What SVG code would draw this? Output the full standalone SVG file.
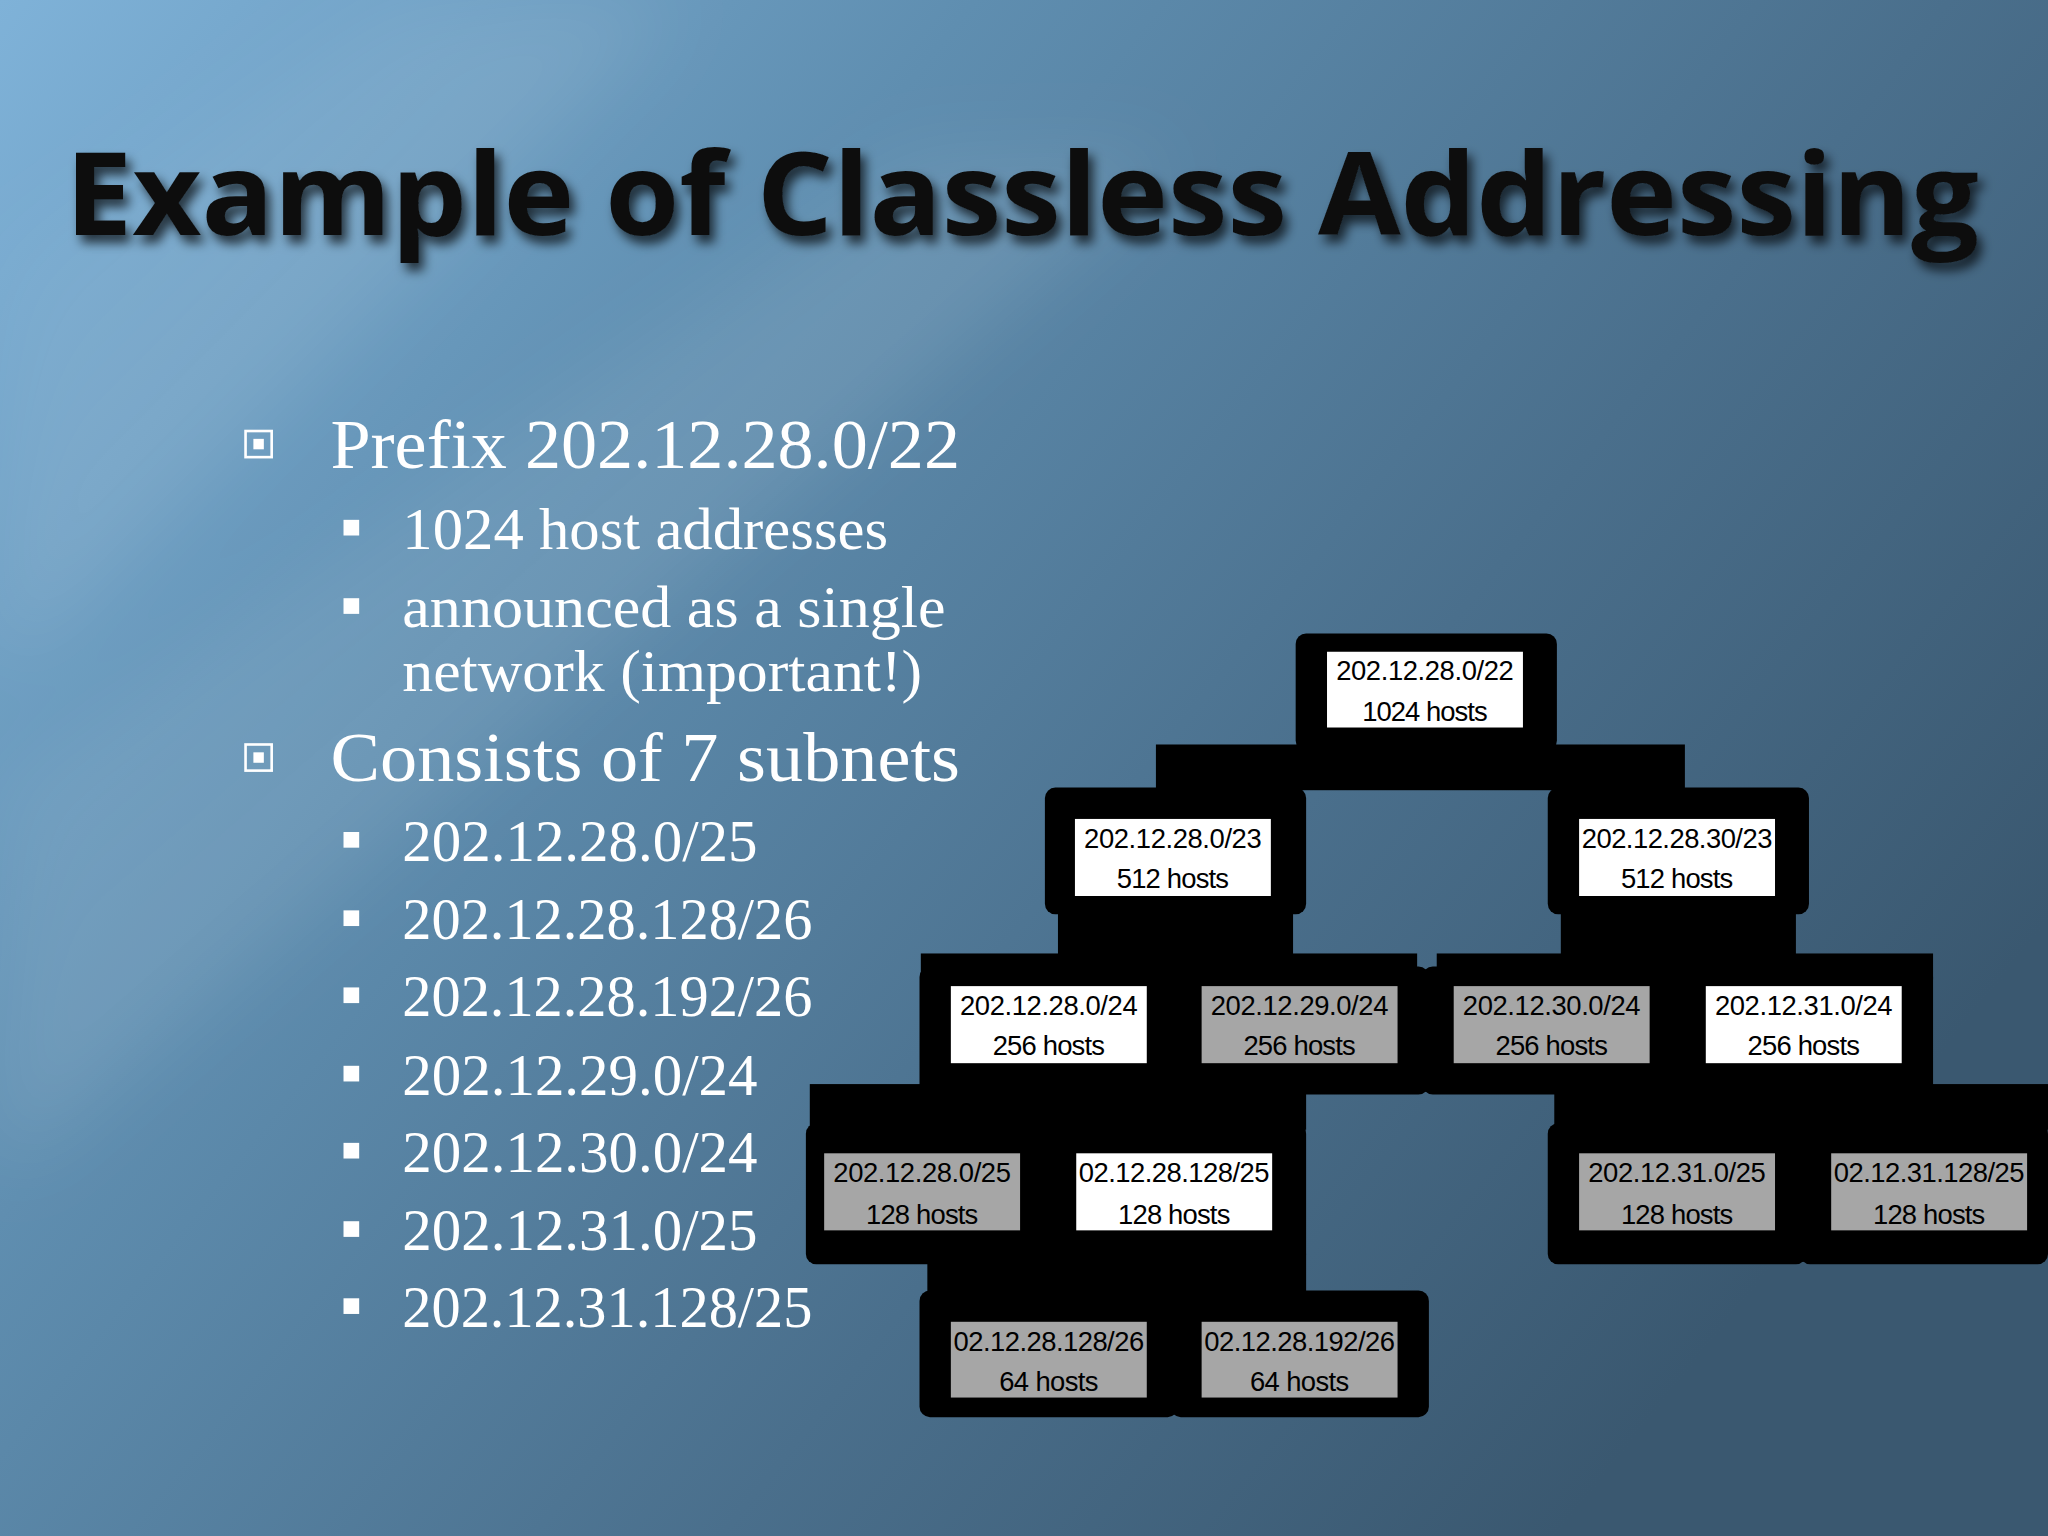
<svg xmlns="http://www.w3.org/2000/svg" width="2048" height="1536" viewBox="0 0 2048 1536">
<defs>
<linearGradient id="bg" x1="0" y1="0" x2="1" y2="0.6">
<stop offset="0" stop-color="#7fb2d8"/>
<stop offset="0.35" stop-color="#5f8eb0"/>
<stop offset="0.7" stop-color="#4a6f8c"/>
<stop offset="1" stop-color="#3a5870"/>
</linearGradient>
<linearGradient id="streak" x1="0" y1="0" x2="1" y2="1">
<stop offset="0" stop-color="#ffffff" stop-opacity="0"/>
<stop offset="0.5" stop-color="#ffffff" stop-opacity="0.1"/>
<stop offset="1" stop-color="#ffffff" stop-opacity="0"/>
</linearGradient>
<filter id="sh" x="-5%" y="-20%" width="110%" height="150%"><feDropShadow dx="4" dy="6" stdDeviation="4" flood-color="#000" flood-opacity="0.7"/></filter>
<filter id="bl"><feGaussianBlur stdDeviation="30"/></filter>
</defs>
<style>
.t{font-family:"Liberation Serif","DejaVu Serif",serif;fill:#fff}
.b1{font-size:53px}
.b2{font-size:45px}
.n{font-family:"Liberation Sans","DejaVu Sans",sans-serif;font-size:21px;fill:#000;text-anchor:middle}
.lw{fill:#fff}
.lg{fill:#a6a6a6}
.blk{fill:#000}
</style>
<rect width="2048" height="1536" fill="url(#bg)"/>
<g transform="scale(1.30612)">
<g filter="url(#bl)">
<polygon points="0,200 300,0 520,0 0,520" fill="url(#streak)"/>
<polygon points="0,600 700,120 900,120 0,900" fill="url(#streak)"/>
</g>
<text x="50" y="180" font-family="'Open Sans','DejaVu Sans',sans-serif" font-weight="bold" font-size="88" fill="#111" filter="url(#sh)" textLength="1465" lengthAdjust="spacingAndGlyphs">Example of Classless Addressing</text>

<g id="bullets">
<rect x="188" y="330" width="20" height="20" fill="none" stroke="#fff" stroke-width="2"/><rect x="194" y="336" width="8" height="8" fill="#fff"/>
<rect x="188" y="570" width="20" height="20" fill="none" stroke="#fff" stroke-width="2"/><rect x="194" y="576" width="8" height="8" fill="#fff"/>
<text class="t b1" x="253" y="358" textLength="482" lengthAdjust="spacingAndGlyphs">Prefix 202.12.28.0/22</text>
<text class="t b1" x="253" y="598" textLength="482" lengthAdjust="spacingAndGlyphs">Consists of 7 subnets</text>
<g fill="#fff"><rect x="263" y="398" width="12" height="12"/><rect x="263" y="458" width="12" height="12"/><rect x="263" y="637" width="12" height="12"/><rect x="263" y="697" width="12" height="12"/><rect x="263" y="756" width="12" height="12"/><rect x="263" y="816" width="12" height="12"/><rect x="263" y="875" width="12" height="12"/><rect x="263" y="935" width="12" height="12"/><rect x="263" y="994" width="12" height="12"/></g>
<text class="t b2" x="308" y="420" textLength="372" lengthAdjust="spacingAndGlyphs">1024 host addresses</text>
<text class="t b2" x="308" y="480" textLength="416" lengthAdjust="spacingAndGlyphs">announced as a single</text>
<text class="t b2" x="308" y="529" textLength="398" lengthAdjust="spacingAndGlyphs">network (important!)</text>
<text class="t b2" x="308" y="659" textLength="272" lengthAdjust="spacingAndGlyphs">202.12.28.0/25</text>
<text class="t b2" x="308" y="719" textLength="314" lengthAdjust="spacingAndGlyphs">202.12.28.128/26</text>
<text class="t b2" x="308" y="778" textLength="314" lengthAdjust="spacingAndGlyphs">202.12.28.192/26</text>
<text class="t b2" x="308" y="838" textLength="272" lengthAdjust="spacingAndGlyphs">202.12.29.0/24</text>
<text class="t b2" x="308" y="897" textLength="272" lengthAdjust="spacingAndGlyphs">202.12.30.0/24</text>
<text class="t b2" x="308" y="957" textLength="272" lengthAdjust="spacingAndGlyphs">202.12.31.0/25</text>
<text class="t b2" x="308" y="1016" textLength="314" lengthAdjust="spacingAndGlyphs">202.12.31.128/25</text>
</g>

<g id="connectors" class="blk">
<rect x="885" y="570" width="405" height="35"/>
<rect x="810" y="695" width="180" height="50"/>
<rect x="1195" y="695" width="180" height="50"/>
<rect x="705" y="730" width="380" height="20"/>
<rect x="1100" y="730" width="380" height="20"/>
<rect x="620" y="830" width="380" height="35"/>
<rect x="1190" y="830" width="378" height="35"/>
<rect x="710" y="960" width="290" height="32"/>
</g>

<g id="n1"><rect class="blk" x="992" y="485" width="200" height="90" rx="8"/><rect class="lw" x="1016" y="499" width="150" height="58"/><text class="n" x="1091" y="521" textLength="136">202.12.28.0/22</text><text class="n" x="1091" y="552" textLength="96">1024 hosts</text></g>
<g id="n2"><rect class="blk" x="800" y="603" width="200" height="97" rx="8"/><rect class="lw" x="823" y="627" width="150" height="59"/><text class="n" x="898" y="649" textLength="136">202.12.28.0/23</text><text class="n" x="898" y="680" textLength="86">512 hosts</text></g>
<g id="n3"><rect class="blk" x="1185" y="603" width="200" height="97" rx="8"/><rect class="lw" x="1209" y="627" width="150" height="59"/><text class="n" x="1284" y="649" textLength="146">202.12.28.30/23</text><text class="n" x="1284" y="680" textLength="86">512 hosts</text></g>

<g id="n4"><rect class="blk" x="704" y="740" width="198" height="98" rx="8"/><rect class="lw" x="728" y="755" width="150" height="59"/><text class="n" x="803" y="777" textLength="136">202.12.28.0/24</text><text class="n" x="803" y="808" textLength="86">256 hosts</text></g>
<g id="n5"><rect class="blk" x="896" y="740" width="198" height="98" rx="8"/><rect class="lg" x="920" y="755" width="150" height="59"/><text class="n" x="995" y="777" textLength="136">202.12.29.0/24</text><text class="n" x="995" y="808" textLength="86">256 hosts</text></g>
<g id="n6"><rect class="blk" x="1089" y="740" width="198" height="98" rx="8"/><rect class="lg" x="1113" y="755" width="150" height="59"/><text class="n" x="1188" y="777" textLength="136">202.12.30.0/24</text><text class="n" x="1188" y="808" textLength="86">256 hosts</text></g>
<g id="n7"><rect class="blk" x="1282" y="740" width="198" height="98" rx="8"/><rect class="lw" x="1306" y="755" width="150" height="59"/><text class="n" x="1381" y="777" textLength="136">202.12.31.0/24</text><text class="n" x="1381" y="808" textLength="86">256 hosts</text></g>

<g id="n8"><rect class="blk" x="617" y="860" width="190" height="108" rx="8"/><rect class="lg" x="631" y="883" width="150" height="59"/><text class="n" x="706" y="905" textLength="136">202.12.28.0/25</text><text class="n" x="706" y="937" textLength="86">128 hosts</text></g>
<g id="n9"><rect class="blk" x="800" y="860" width="200" height="108" rx="8"/><rect class="lw" x="824" y="883" width="150" height="59"/><text class="n" x="899" y="905" textLength="146">02.12.28.128/25</text><text class="n" x="899" y="937" textLength="86">128 hosts</text></g>
<g id="n10"><rect class="blk" x="1185" y="860" width="198" height="108" rx="8"/><rect class="lg" x="1209" y="883" width="150" height="59"/><text class="n" x="1284" y="905" textLength="136">202.12.31.0/25</text><text class="n" x="1284" y="937" textLength="86">128 hosts</text></g>
<g id="n11"><rect class="blk" x="1378" y="860" width="190" height="108" rx="8"/><rect class="lg" x="1402" y="883" width="150" height="59"/><text class="n" x="1477" y="905" textLength="146">02.12.31.128/25</text><text class="n" x="1477" y="937" textLength="86">128 hosts</text></g>

<g id="n12"><rect class="blk" x="704" y="988" width="198" height="97" rx="8"/><rect class="lg" x="728" y="1012" width="150" height="58"/><text class="n" x="803" y="1034" textLength="146">02.12.28.128/26</text><text class="n" x="803" y="1065" textLength="76">64 hosts</text></g>
<g id="n13"><rect class="blk" x="896" y="988" width="198" height="97" rx="8"/><rect class="lg" x="920" y="1012" width="150" height="58"/><text class="n" x="995" y="1034" textLength="146">02.12.28.192/26</text><text class="n" x="995" y="1065" textLength="76">64 hosts</text></g>
</g>
</svg>
